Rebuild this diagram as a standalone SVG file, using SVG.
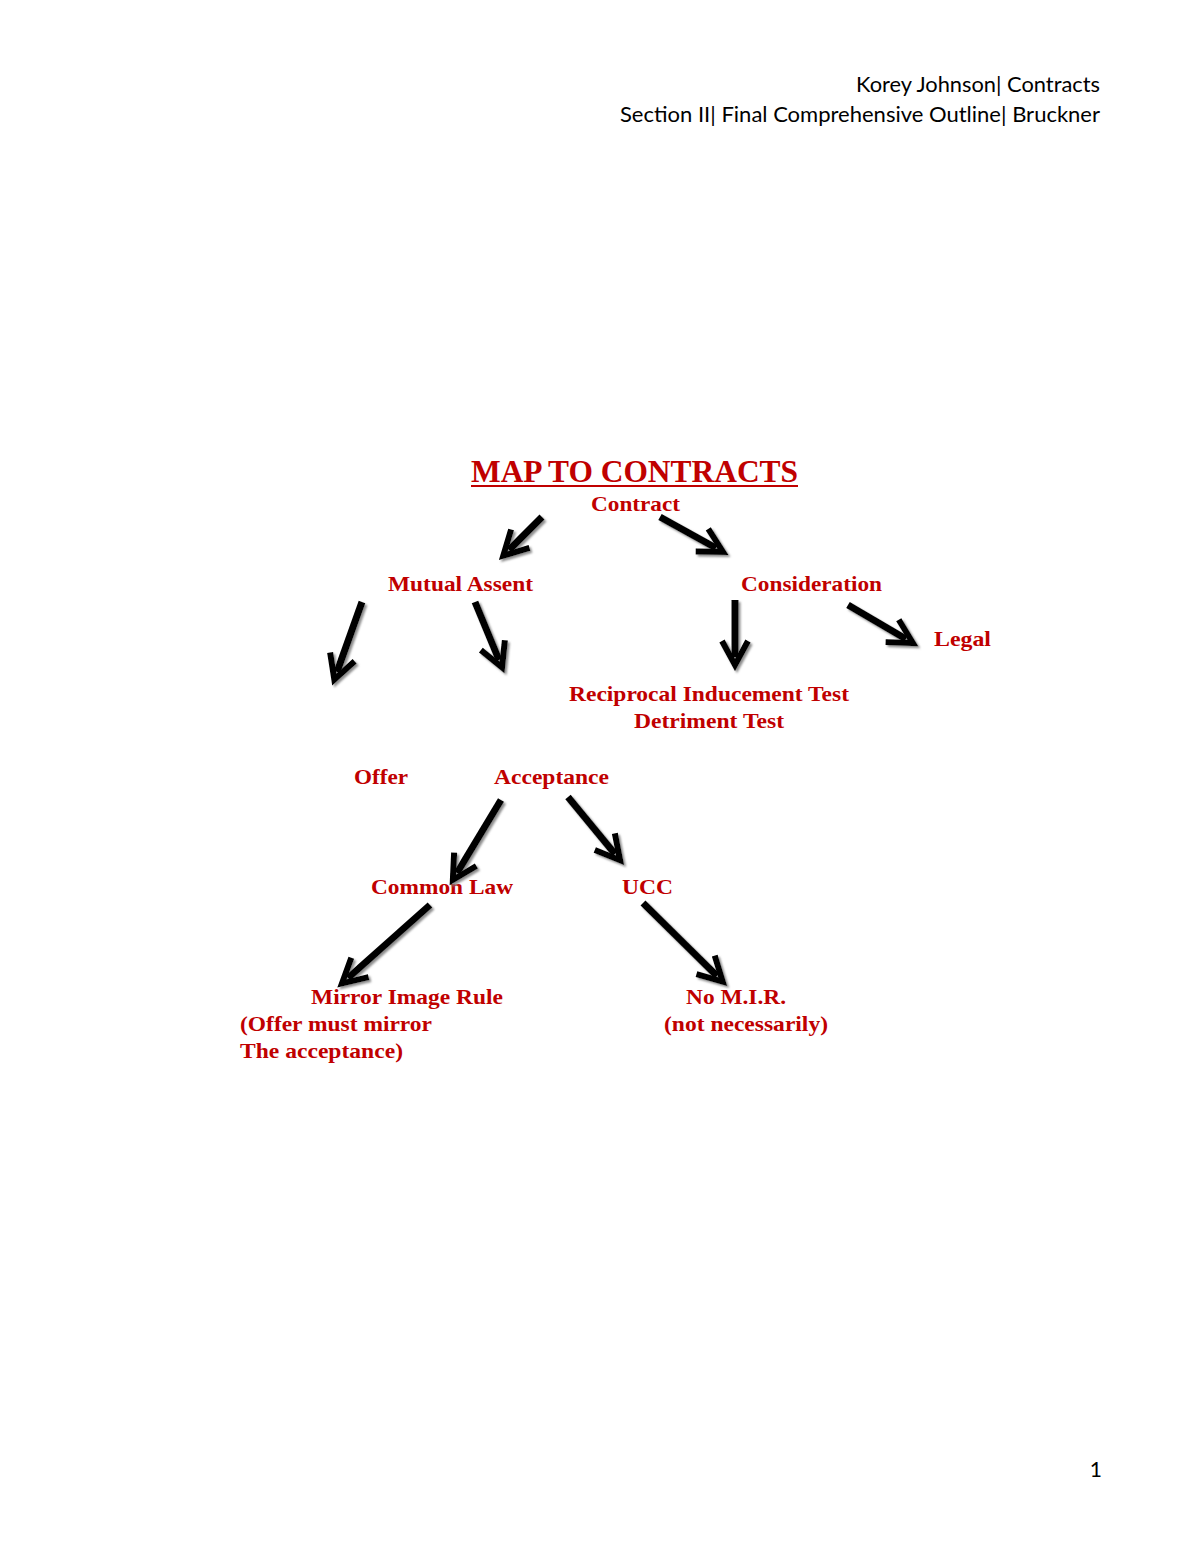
<svg xmlns="http://www.w3.org/2000/svg" width="1200" height="1553" viewBox="0 0 1200 1553">
<style>
.hdr{font-family:Lato,"Liberation Sans",sans-serif;font-size:21px;fill:#000}
.lbl{font-family:"Liberation Serif","DejaVu Serif",serif;font-size:21px;font-weight:bold;fill:#c00000}
.ttl{font-family:"Liberation Serif","DejaVu Serif",serif;font-size:31px;font-weight:bold;fill:#c00000}
.arr{fill:none;stroke:#000;stroke-width:7;marker-end:url(#v)}
</style>
<defs>
<marker id="v" markerUnits="userSpaceOnUse" markerWidth="40" markerHeight="40" refX="-8" refY="0" orient="auto" overflow="visible">
<path d="M-24,-13 L0,0 L-24,13" fill="none" stroke="#000" stroke-width="6"/>
</marker>
<filter id="sh" x="-20%" y="-20%" width="140%" height="140%">
<feDropShadow dx="2" dy="2" stdDeviation="1" flood-color="#808080" flood-opacity="0.9"/>
</filter>
</defs>
<rect width="1200" height="1553" fill="#fff"/>
<g id="header">
<text class="hdr" x="1100" y="92" text-anchor="end" textLength="244" lengthAdjust="spacingAndGlyphs">Korey Johnson| Contracts</text>
<text class="hdr" x="1100" y="122" text-anchor="end" textLength="480" lengthAdjust="spacingAndGlyphs">Section II| Final Comprehensive Outline| Bruckner</text>
</g>
<g id="title">
<text class="ttl" x="471" y="482" textLength="327" lengthAdjust="spacingAndGlyphs">MAP TO CONTRACTS</text>
<line x1="471" y1="486" x2="798" y2="486" stroke="#c00000" stroke-width="2"/>
</g>
<g id="n-contract"><text class="lbl" x="591" y="511" textLength="89" lengthAdjust="spacingAndGlyphs">Contract</text></g>
<g id="n-mutual"><text class="lbl" x="388" y="591" textLength="145" lengthAdjust="spacingAndGlyphs">Mutual Assent</text></g>
<g id="n-consideration"><text class="lbl" x="741" y="591" textLength="141" lengthAdjust="spacingAndGlyphs">Consideration</text></g>
<g id="n-legal"><text class="lbl" x="934" y="646" textLength="57" lengthAdjust="spacingAndGlyphs">Legal</text></g>
<g id="n-tests">
<text class="lbl" x="569" y="701" textLength="280" lengthAdjust="spacingAndGlyphs">Reciprocal Inducement Test</text>
<text class="lbl" x="634" y="728" textLength="150" lengthAdjust="spacingAndGlyphs">Detriment Test</text>
</g>
<g id="n-offer"><text class="lbl" x="354" y="784" textLength="54" lengthAdjust="spacingAndGlyphs">Offer</text></g>
<g id="n-acceptance"><text class="lbl" x="494" y="784" textLength="115" lengthAdjust="spacingAndGlyphs">Acceptance</text></g>
<g id="n-common"><text class="lbl" x="371" y="894" textLength="142" lengthAdjust="spacingAndGlyphs">Common Law</text></g>
<g id="n-ucc"><text class="lbl" x="622" y="894" textLength="51" lengthAdjust="spacingAndGlyphs">UCC</text></g>
<g id="n-mirror">
<text class="lbl" x="311" y="1004" textLength="192" lengthAdjust="spacingAndGlyphs">Mirror Image Rule</text>
<text class="lbl" x="240" y="1031" textLength="192" lengthAdjust="spacingAndGlyphs">(Offer must mirror</text>
<text class="lbl" x="240" y="1058" textLength="163" lengthAdjust="spacingAndGlyphs">The acceptance)</text>
</g>
<g id="n-nomir">
<text class="lbl" x="686" y="1004" textLength="100" lengthAdjust="spacingAndGlyphs">No M.I.R.</text>
<text class="lbl" x="664" y="1031" textLength="164" lengthAdjust="spacingAndGlyphs">(not necessarily)</text>
</g>
<g id="connectors" filter="url(#sh)">
<path class="arr" d="M542,517 L509,550"/>
<path class="arr" d="M660,517 L716,548"/>
<path class="arr" d="M362,602 L337,672"/>
<path class="arr" d="M475,602 L499,660"/>
<path class="arr" d="M735,600 L735,657"/>
<path class="arr" d="M848,605 L906,639"/>
<path class="arr" d="M501,800 L457,873"/>
<path class="arr" d="M568,797 L615,854"/>
<path class="arr" d="M430,905 L348,978"/>
<path class="arr" d="M643,903 L717,976"/>
</g>
<g id="page-number"><text class="hdr" x="1102" y="1477" text-anchor="end">1</text></g>
</svg>
